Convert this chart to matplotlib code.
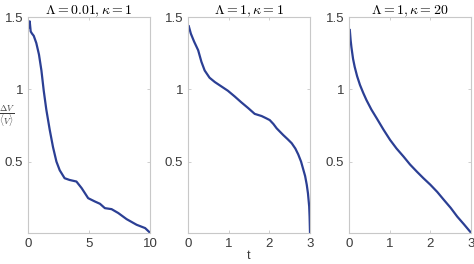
import numpy as np
import matplotlib
matplotlib.use('Agg')
import matplotlib.pyplot as plt

plt.rcParams['font.family'] = ['Liberation Sans', 'DejaVu Sans']
plt.rcParams['mathtext.fontset'] = 'cm'

# panel 1: Lambda = 0.01, kappa = 1
t1 = [0.0, 0.05, 0.14, 0.22, 0.33, 0.47, 0.68, 0.9, 1.1, 1.29, 1.5, 1.78, 2.05,
      2.33, 2.6, 3.0, 3.4, 3.97, 4.4, 4.93, 5.48, 5.9, 6.3, 6.85, 7.4, 8.08,
      8.9, 9.6, 10.0]
v1 = [1.42, 1.43, 1.47, 1.40, 1.385, 1.37, 1.32, 1.24, 1.13, 0.99, 0.86, 0.72,
      0.60, 0.50, 0.44, 0.385, 0.373, 0.362, 0.316, 0.247, 0.224, 0.208, 0.178,
      0.171, 0.144, 0.102, 0.063, 0.04, 0.008]

# panel 2: Lambda = 1, kappa = 1
t2 = [0.02, 0.07, 0.15, 0.25, 0.33, 0.41, 0.53, 0.66, 0.82, 0.98, 1.15, 1.31,
      1.48, 1.64, 1.81, 1.92, 2.01, 2.1, 2.18, 2.34, 2.45, 2.55, 2.64, 2.71,
      2.78, 2.83, 2.88, 2.92, 2.95, 2.98, 2.99, 3.0]
v2 = [1.436, 1.385, 1.33, 1.27, 1.19, 1.13, 1.08, 1.05, 1.02, 0.99, 0.95, 0.91,
      0.87, 0.83, 0.815, 0.80, 0.787, 0.76, 0.73, 0.684, 0.655, 0.627, 0.59, 0.55,
      0.50, 0.45, 0.40, 0.34, 0.28, 0.19, 0.12, 0.008]

# panel 3: Lambda = 1, kappa = 20
t3 = [0.02, 0.04, 0.06, 0.1, 0.14, 0.2, 0.27, 0.35, 0.43, 0.55, 0.68, 0.85,
      1.01, 1.17, 1.34, 1.5, 1.67, 1.83, 2.0, 2.17, 2.33, 2.5, 2.66, 2.83, 3.0]
v3 = [1.41, 1.34, 1.29, 1.21, 1.155, 1.09, 1.03, 0.975, 0.925, 0.86, 0.80, 0.72,
      0.65, 0.59, 0.535, 0.48, 0.43, 0.385, 0.34, 0.29, 0.236, 0.18, 0.12, 0.065, 0.008]

titles = [r'$\Lambda = 0.01, \kappa = 1$', r'$\Lambda = 1, \kappa = 1$',
          r'$\Lambda = 1, \kappa = 20$']
xmax = [10, 3, 3]
xticks = [[0, 5, 10], [0, 1, 2, 3], [0, 1, 2, 3]]

W, H = 474, 264
fig = plt.figure(figsize=(W / 100, H / 100), dpi=100)
lefts = [28, 188, 349]
width = 122
top, bottom = 17, 233

data = [(t1, v1), (t2, v2), (t3, v3)]
for i, (t, v) in enumerate(data):
    ax = fig.add_axes([lefts[i] / W, 1 - bottom / H, width / W, (bottom - top) / H])
    ax.plot(t, v, color='#2b3f94', lw=1.6)
    ax.set_xlim(0, xmax[i])
    ax.set_ylim(0.006, 1.5)
    ax.set_xticks(xticks[i])
    ax.set_yticks([0.5, 1, 1.5])
    ax.set_yticklabels(['0.5', '1', '1.5'])
    ax.set_title(titles[i], fontsize=10, pad=2)
    for s in ax.spines.values():
        s.set_color('#c8c8c8')
        s.set_linewidth(0.8)
    ax.tick_params(labelsize=9.5, colors='#c8c8c8', labelcolor='#3a3a3a',
                   length=2, width=0.6, direction='in', top=True, right=True)
    if i == 1:
        ax.set_xlabel('t', fontsize=9, labelpad=0, color='#3a3a3a')

fig.text(7 / W, 1 - 116 / H, r'$\frac{\Delta V}{\langle V \rangle}$',
         fontsize=9, ha='center', va='center', color='#3a3a3a')

fig.savefig('out.png', dpi=100)
